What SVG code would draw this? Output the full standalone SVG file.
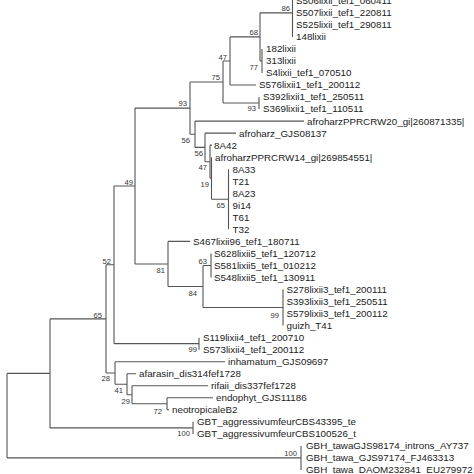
<svg xmlns="http://www.w3.org/2000/svg" width="474" height="474" viewBox="0 0 474 474">
<style>
.br{fill:none;stroke:#555;stroke-width:1.1}
.tip{font-family:"Liberation Sans",Arial,sans-serif;font-size:9.8px;fill:#222}
.bs{font-family:"Liberation Sans",Arial,sans-serif;font-size:7.6px;fill:#333;text-anchor:end}
</style>
<rect width="474" height="474" fill="#fff"/>
<g id="connectors" class="br">
<path d="M260,12.83H292.5M292.5,0V36.89"/>
<path d="M260,60.95H262M262,48.92V72.98"/>
<path d="M230,36.89H260M260,12.83V60.95"/>
<path d="M223,60.95H230M230,36.89V85.01M230,85.01H256"/>
<path d="M223,103.06H259M259,97.04V109.07"/>
<path d="M190,82H223M223,60.95V103.06"/>
<path d="M135,108.1H190M190,82V134.3"/>
<path d="M190,134.3H195M195,121.1V147.4M195,121.1H304"/>
<path d="M195,147.4H205M205,133.13V161.7M205,133.13H236"/>
<path d="M205,161.7H210M210,145.16V178.2M210,145.16H212"/>
<path d="M210,178.2H211.5M211.5,157.19V199.3"/>
<path d="M211.5,199.3H228.5M228.5,169.22V229.37"/>
<path d="M114,186H135M135,108.1V263.95"/>
<path d="M135,263.95H168M168,241.4V286.5M168,241.4H190"/>
<path d="M168,286.5H203M203,265.46V307.57"/>
<path d="M203,265.46H211M211,253.43V277.49"/>
<path d="M203,307.57H283M283,289.52V325.61"/>
<path d="M106,264.8H114M114,186V343.66"/>
<path d="M114,343.66H199M199,337.64V349.67"/>
<path d="M50,318.9H106M106,264.8V373"/>
<path d="M106,373H115M115,361.7V384.3M115,361.7H225"/>
<path d="M115,384.3H127M127,373.73V394.8M127,373.73H136"/>
<path d="M127,394.8H132M132,385.76V403.8M132,385.76H208"/>
<path d="M132,403.8H167M167,397.79V409.82M167,397.79H213M167,409.82H169"/>
<path d="M50,427.9H193M193,421.85V433.88"/>
<path d="M7,373.4H50M50,318.9V427.9"/>
<path d="M7,457.9H301M301,445.91V469.97"/>
<path d="M7,373.4V457.9"/>
</g>
<g id="support">
<text class="bs" x="290" y="10.7">86</text>
<text class="bs" x="258" y="34.7">68</text>
<text class="bs" x="258" y="69.7">77</text>
<text class="bs" x="227" y="59.7">47</text>
<text class="bs" x="220" y="79.7">75</text>
<text class="bs" x="256" y="110.7">93</text>
<text class="bs" x="187" y="105.7">93</text>
<text class="bs" x="190" y="142.7">56</text>
<text class="bs" x="203" y="155.7">56</text>
<text class="bs" x="207" y="169.7">47</text>
<text class="bs" x="209" y="186.7">19</text>
<text class="bs" x="225" y="207.7">65</text>
<text class="bs" x="133" y="184.7">49</text>
<text class="bs" x="111" y="263.7">52</text>
<text class="bs" x="165" y="272.7">81</text>
<text class="bs" x="207" y="264">63</text>
<text class="bs" x="197" y="295.7">84</text>
<text class="bs" x="279" y="317.7">99</text>
<text class="bs" x="102" y="317.7">65</text>
<text class="bs" x="197" y="351.7">99</text>
<text class="bs" x="110" y="380.7">28</text>
<text class="bs" x="123" y="392.7">41</text>
<text class="bs" x="130" y="403.7">29</text>
<text class="bs" x="162" y="413.7">72</text>
<text class="bs" x="190" y="435.7">100</text>
<text class="bs" x="297" y="455.7">100</text>
</g>
<g id="tip-S506"><text class="tip" x="296" y="4.2">S506lixii_tef1_060411</text></g>
<g id="tip-S507"><text class="tip" x="296" y="16.23">S507lixii_tef1_220811</text></g>
<g id="tip-S525"><text class="tip" x="296" y="28.26">S525lixii_tef1_290811</text></g>
<g id="tip-148lixii"><text class="tip" x="296" y="40.29">148lixii</text></g>
<g id="tip-182lixii"><text class="tip" x="266" y="52.32">182lixii</text></g>
<g id="tip-313lixii"><text class="tip" x="266" y="64.35">313lixii</text></g>
<g id="tip-S4"><text class="tip" x="266" y="76.38">S4lixii_tef1_070510</text></g>
<g id="tip-S576"><text class="tip" x="259" y="88.41">S576lixii1_tef1_200112</text></g>
<g id="tip-S392"><text class="tip" x="263" y="100.44">S392lixii1_tef1_250511</text></g>
<g id="tip-S369"><text class="tip" x="263" y="112.47">S369lixii1_tef1_110511</text></g>
<g id="tip-PPRCRW20"><text class="tip" x="307" y="124.5">afroharzPPRCRW20_gi|260871335|</text></g>
<g id="tip-GJS08137"><text class="tip" x="239" y="136.53">afroharz_GJS08137</text></g>
<g id="tip-8A42"><text class="tip" x="214" y="148.56">8A42</text></g>
<g id="tip-PPRCRW14"><text class="tip" x="215" y="160.59">afroharzPPRCRW14_gi|269854551|</text></g>
<g id="tip-8A33"><text class="tip" x="232.5" y="172.62">8A33</text></g>
<g id="tip-T21"><text class="tip" x="232.5" y="184.65">T21</text></g>
<g id="tip-8A23"><text class="tip" x="232.5" y="196.68">8A23</text></g>
<g id="tip-9i14"><text class="tip" x="232.5" y="208.71">9i14</text></g>
<g id="tip-T61"><text class="tip" x="232.5" y="220.74">T61</text></g>
<g id="tip-T32"><text class="tip" x="232.5" y="232.77">T32</text></g>
<g id="tip-S467"><text class="tip" x="193" y="244.8">S467lixii96_tef1_180711</text></g>
<g id="tip-S628"><text class="tip" x="214" y="256.83">S628lixii5_tef1_120712</text></g>
<g id="tip-S581"><text class="tip" x="214" y="268.86">S581lixii5_tef1_010212</text></g>
<g id="tip-S548"><text class="tip" x="214" y="280.89">S548lixii5_tef1_130911</text></g>
<g id="tip-S278"><text class="tip" x="286.5" y="292.92">S278lixii3_tef1_200111</text></g>
<g id="tip-S393"><text class="tip" x="286.5" y="304.95">S393lixii3_tef1_250511</text></g>
<g id="tip-S579"><text class="tip" x="286.5" y="316.98">S579lixii3_tef1_200112</text></g>
<g id="tip-guizh"><text class="tip" x="286.5" y="329.01">guizh_T41</text></g>
<g id="tip-S119"><text class="tip" x="203" y="341.04">S119lixii4_tef1_200710</text></g>
<g id="tip-S573"><text class="tip" x="203" y="353.07">S573lixii4_tef1_200112</text></g>
<g id="tip-inhamatum"><text class="tip" x="228" y="365.1">inhamatum_GJS09697</text></g>
<g id="tip-afarasin"><text class="tip" x="139" y="377.13">afarasin_dis314fef1728</text></g>
<g id="tip-rifaii"><text class="tip" x="211" y="389.16">rifaii_dis337fef1728</text></g>
<g id="tip-endophyt"><text class="tip" x="216" y="401.19">endophyt_GJS11186</text></g>
<g id="tip-neotropicale"><text class="tip" x="172" y="413.22">neotropicaleB2</text></g>
<g id="tip-GBT43395"><text class="tip" x="197" y="425.25">GBT_aggressivumfeurCBS43395_te</text></g>
<g id="tip-GBT100526"><text class="tip" x="197" y="437.28">GBT_aggressivumfeurCBS100526_t</text></g>
<g id="tip-GBH98174"><text class="tip" x="306" y="449.31">GBH_tawaGJS98174_introns_AY737</text></g>
<g id="tip-GBH97174"><text class="tip" x="306" y="461.34">GBH_tawa_GJS97174_FJ463313</text></g>
<g id="tip-GBH232841"><text class="tip" x="306" y="473.37">GBH_tawa_DAOM232841_EU279972</text></g>
</svg>
